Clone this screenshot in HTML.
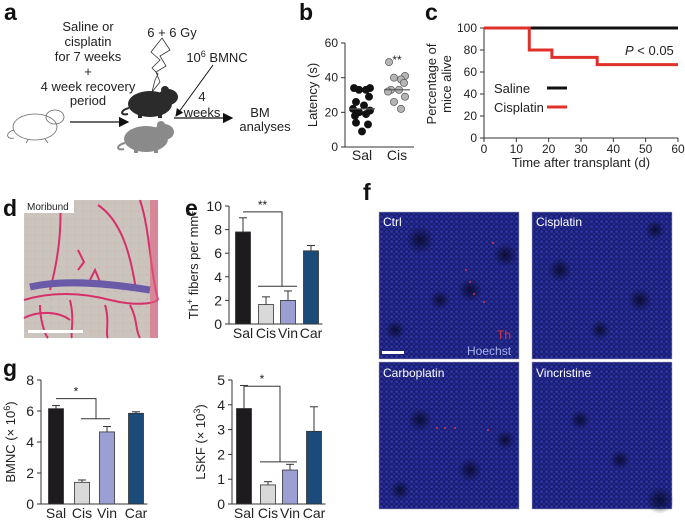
<!DOCTYPE html>
<html><head><meta charset="utf-8"><style>
html,body{margin:0;padding:0;background:#fff;}
svg{display:block;font-family:"Liberation Sans",Arial,sans-serif;}
.lt{font-weight:bold;font-size:23px;fill:#111;}
.tk{font-size:12px;fill:#222;}
.tx{font-size:13px;fill:#222;}
.bx{font-size:14px;fill:#222;}
</style></head><body>
<svg id="fig" width="685" height="521" viewBox="0 0 685 521">
<defs>
<pattern id="cells" width="5" height="5" patternUnits="userSpaceOnUse">
<rect width="5" height="5" fill="#1a1e72"/>
<circle cx="1.6" cy="1.6" r="1.4" fill="#2c34a6"/>
<circle cx="4" cy="4" r="1.1" fill="#262d96"/>
</pattern>
<radialGradient id="blot"><stop offset="0" stop-color="#05061e" stop-opacity="0.75"/><stop offset="1" stop-color="#05061e" stop-opacity="0"/></radialGradient>
<pattern id="dpat" width="8" height="8" patternUnits="userSpaceOnUse">
<rect width="8" height="8" fill="#cbc4bd"/>
<circle cx="3" cy="3" r="0.8" fill="#d9a0b4"/>
</pattern>
<marker id="ah" markerWidth="8" markerHeight="8" refX="7" refY="4" orient="auto"><path d="M0,0 L8,4 L0,8 z" fill="#111"/></marker>
</defs>

<text class="lt" x="4" y="20">a</text>
<text class="lt" x="299" y="20">b</text>
<text class="lt" x="425" y="20">c</text>
<text class="lt" x="3" y="216">d</text>
<text class="lt" x="185" y="216">e</text>
<text class="lt" x="363" y="200">f</text>
<text class="lt" x="3" y="376">g</text>

<g>
<g class="tx" text-anchor="middle">
<text x="88" y="31">Saline or</text>
<text x="88" y="46">cisplatin</text>
<text x="88" y="61">for 7 weeks</text>
<text x="88" y="76">+</text>
<text x="88" y="91">4 week recovery</text>
<text x="88" y="105">period</text>
<text x="172" y="37">6 + 6 Gy</text>
<text x="217" y="62">10<tspan dy="-5" font-size="9">6</tspan><tspan dy="5"> BMNC</tspan></text>
<text x="202" y="101">4</text>
<text x="202" y="117">weeks</text>
<text x="260" y="117">BM</text>
<text x="265" y="131">analyses</text>
</g>
<path d="M162,38 L170,50 L160,56 L166,66 L156,72 L160,82 L152,92 L155,80 L158,74 L152,68 L160,60 L151,52 Z" fill="none" stroke="#333" stroke-width="0.8"/>
<line x1="213" y1="65" x2="176" y2="116" stroke="#111" stroke-width="1" marker-end="url(#ah)"/>
<line x1="70" y1="122" x2="128" y2="122" stroke="#111" stroke-width="1.3" marker-end="url(#ah)"/>
<line x1="174" y1="118" x2="232" y2="118" stroke="#111" stroke-width="1.3" marker-end="url(#ah)"/>
<g fill="none" stroke="#666" stroke-width="0.8">
<ellipse cx="35" cy="127" rx="22" ry="13"/><ellipse cx="55" cy="117" rx="9" ry="7"/>
<path d="M14,130 C5,132 6,140 14,138"/><path d="M28,140 L26,143 M45,139 L48,143"/>
</g>
<g fill="#2b2b2b">
<ellipse cx="150" cy="104" rx="22" ry="13"/><ellipse cx="168" cy="97" rx="10" ry="8"/>
<circle cx="165" cy="90" r="4"/><path d="M129,108 C120,110 120,116 128,114" stroke="#2b2b2b" stroke-width="2" fill="none"/>
<rect x="138" y="113" width="4" height="5"/><rect x="158" y="113" width="4" height="5"/>
</g>
<g fill="#8a8a8a">
<ellipse cx="146" cy="139" rx="22" ry="13"/><ellipse cx="164" cy="132" rx="10" ry="8"/>
<circle cx="161" cy="125" r="4"/><path d="M125,143 C116,145 116,151 124,149" stroke="#8a8a8a" stroke-width="2" fill="none"/>
<rect x="134" y="148" width="4" height="5"/><rect x="154" y="148" width="4" height="5"/>
</g>
</g>

<g>
<rect x="24" y="200" width="134" height="138" fill="url(#dpat)"/>
<g fill="none" stroke="#d6306a" stroke-width="2">
<path d="M60,200 C62,230 58,260 50,290"/><path d="M98,205 C120,220 130,250 136,290"/>
<path d="M140,200 C150,230 150,270 158,300"/><path d="M24,300 C50,292 80,292 110,300 C130,305 150,305 158,300"/>
<path d="M24,318 C40,310 60,312 70,320"/><path d="M40,305 C40,320 45,335 48,338"/><path d="M70,300 C75,320 70,335 72,338"/><path d="M105,305 C110,320 105,335 108,338"/><path d="M130,305 C138,320 135,330 140,338"/>
<path d="M78,250 L84,262 L78,270"/><path d="M90,280 L95,270 L100,282"/>
</g>
<path d="M30,287 C60,280 100,282 150,290" stroke="#6b5aa8" stroke-width="7" fill="none"/>
<rect x="150" y="200" width="8" height="138" fill="#e0607f" opacity="0.6"/>
<rect x="24" y="200" width="50" height="13" fill="#fff"/>
<text x="27" y="210" font-size="10" fill="#222">Moribund</text>
<rect x="28" y="330" width="55" height="3" fill="#fff"/>
</g>

<g font-size="12" fill="#fff">
<rect x="379" y="212" width="140" height="147" fill="url(#cells)" stroke="#aab" stroke-width="0.5"/>
<rect x="532" y="212" width="140" height="147" fill="url(#cells)" stroke="#aab" stroke-width="0.5"/>
<rect x="379" y="362" width="140" height="147" fill="url(#cells)" stroke="#aab" stroke-width="0.5"/>
<rect x="532" y="362" width="140" height="147" fill="url(#cells)" stroke="#aab" stroke-width="0.5"/>
<g fill="url(#blot)">
<circle cx="420" cy="240" r="14"/><circle cx="470" cy="290" r="12"/><circle cx="395" cy="330" r="10"/><circle cx="505" cy="255" r="12"/><circle cx="440" cy="300" r="10"/>
<circle cx="560" cy="270" r="12"/><circle cx="640" cy="300" r="12"/><circle cx="600" cy="330" r="10"/><circle cx="655" cy="230" r="10"/>
<circle cx="420" cy="420" r="12"/><circle cx="470" cy="470" r="12"/><circle cx="400" cy="490" r="10"/><circle cx="505" cy="440" r="10"/>
<circle cx="660" cy="500" r="14"/><circle cx="580" cy="420" r="10"/><circle cx="620" cy="460" r="10"/>
</g>
<g fill="#e0303a"><circle cx="466" cy="270" r="1"/><circle cx="470" cy="282" r="1"/><circle cx="474" cy="294" r="1"/><circle cx="484" cy="302" r="1"/><circle cx="493" cy="243" r="1"/><circle cx="437" cy="428" r="1"/><circle cx="445" cy="428" r="1"/><circle cx="455" cy="428" r="1"/><circle cx="488" cy="430" r="1"/></g>
<text x="383" y="226">Ctrl</text><text x="536" y="226">Cisplatin</text>
<text x="383" y="377">Carboplatin</text><text x="536" y="377">Vincristine</text>
<text x="497" y="339" fill="#e03040">Th</text><text x="467" y="355" fill="#aab0ee">Hoechst</text>
<rect x="382" y="351" width="22" height="3" fill="#fff"/>
</g>

<g id="charts"></g>
</svg>
<script>
const bCategories = ["Sal", "Cis"];
const bSalValues = [34, 34, 33, 33, 29, 26, 24, 22, 21, 20, 19, 18, 14, 13, 9];
const bCisValues = [49, 41, 40, 39, 37, 33, 33, 32, 29, 26, 22];
const bMeans = [22, 33];
const bTicks = [0, 20, 40, 60];

const cSalineX = [0, 60];
const cSalineY = [100, 100];
const cCisX = [0, 14, 14, 21, 21, 35, 35, 60];
const cCisY = [100, 100, 80, 80, 73.3, 73.3, 66.7, 66.7];
const cXTicks = [0, 10, 20, 30, 40, 50, 60];
const cYTicks = [0, 20, 40, 60, 80, 100];

const barCategories = ["Sal", "Cis", "Vin", "Car"];
const barColors = ["#1d1b1e", "#d9d9d9", "#9c9fd3", "#1b4b78"];
const eValues = [7.8, 1.65, 2.0, 6.2];
const eErrors = [1.2, 0.65, 0.8, 0.45];
const eTicks = [0, 2, 4, 6, 8, 10];
const gBmncValues = [6.15, 1.4, 4.65, 5.85];
const gBmncErrors = [0.2, 0.15, 0.35, 0.1];
const gBmncTicks = [0, 2, 4, 6, 8];
const gLskfValues = [3.85, 0.77, 1.37, 2.93];
const gLskfErrors = [0.93, 0.13, 0.23, 0.99];
const gLskfTicks = [0, 1, 2, 3, 4, 5];

const NS = "http://www.w3.org/2000/svg";
const root = document.getElementById("charts");
function mk(tag, attrs, parent, text) {
  const el = document.createElementNS(NS, tag);
  for (const k in attrs) el.setAttribute(k, attrs[k]);
  if (text !== undefined) el.textContent = text;
  (parent || root).appendChild(el);
  return el;
}
function lin(d0, d1, r0, r1) { return v => r0 + (v - d0) * (r1 - r0) / (d1 - d0); }

(function () {
  const g = mk("g", {});
  
  
  const y = lin(0, 60, 147, 43);
  const xc = [362, 397];
  mk("line", { x1: 345, y1: 43, x2: 345, y2: 147, stroke: "#333" }, g);
  mk("line", { x1: 345, y1: 147, x2: 414, y2: 147, stroke: "#333" }, g);
  bTicks.forEach(t => {
    mk("line", { x1: 341, y1: y(t), x2: 345, y2: y(t), stroke: "#333" }, g);
    const tl = mk("text", { x: 338, y: y(t) + 4, "text-anchor": "end", class: "tk" }, g, t);
    
    
  });
  bCategories.forEach((c, i) => {
    const l = mk("text", { x: xc[i], y: 160, "text-anchor": "middle", class: "bx" }, g, c);
    
    
  });
  const jit = [-8, 8, -3, 4, 7, -6, 2, -9, 8, -3, 4, -7, -6, 6, 0, 1];
  [bSalValues, bCisValues].forEach((arr, si) => {
    arr.forEach((v, i) => {
      const p = mk("circle", { cx: xc[si] + jit[i % jit.length], cy: y(v), r: 3.6,
        fill: si ? "#b5b5b5" : "#111", stroke: si ? "#555" : "#111", "stroke-width": 0.7 }, g);
      
      
    });
    const m = mk("line", { x1: xc[si] - 13, x2: xc[si] + 13, y1: y(bMeans[si]), y2: y(bMeans[si]), stroke: "#555", "stroke-width": 1.2 }, g);
    
    
  });
  mk("text", { x: 397, y: 64, "text-anchor": "middle", class: "tk" }, g, "**");
  const t = mk("text", { transform: "translate(317,95) rotate(-90)", "text-anchor": "middle", class: "tx" }, g, "Latency (s)");
  
  
})();

(function () {
  const g = mk("g", {});
  
  
  const x = lin(0, 60, 484, 678), y = lin(0, 100, 138, 28);
  mk("line", { x1: 484, y1: 28, x2: 484, y2: 138, stroke: "#333" }, g);
  mk("line", { x1: 484, y1: 138, x2: 678, y2: 138, stroke: "#333" }, g);
  cYTicks.forEach(t => {
    mk("line", { x1: 480, y1: y(t), x2: 484, y2: y(t), stroke: "#333" }, g);
    mk("text", { x: 477, y: y(t) + 4, "text-anchor": "end", class: "tk" }, g, t);
  });
  cXTicks.forEach(t => {
    mk("line", { x1: x(t), y1: 138, x2: x(t), y2: 142, stroke: "#333" }, g);
    mk("text", { x: x(t), y: 153, "text-anchor": "middle", class: "tk" }, g, t);
  });
  const sal = mk("polyline", { points: cSalineX.map((v, i) => x(v) + "," + y(cSalineY[i])).join(" "), fill: "none", stroke: "#111", "stroke-width": 3 }, g);
  
  
  const cis = mk("polyline", { points: cCisX.map((v, i) => x(v) + "," + y(cCisY[i])).join(" "), fill: "none", stroke: "#e0302a", "stroke-width": 3 }, g);
  
  
  mk("text", { x: 625, y: 55, class: "tx" }, g, "").innerHTML = '<tspan font-style="italic">P</tspan> &lt; 0.05';
  mk("text", { x: 494, y: 93, class: "tx" }, g, "Saline");
  mk("line", { x1: 547, x2: 567, y1: 88, y2: 88, stroke: "#111", "stroke-width": 3 }, g);
  mk("text", { x: 494, y: 112, class: "tx" }, g, "Cisplatin");
  mk("line", { x1: 547, x2: 567, y1: 107, y2: 107, stroke: "#e0302a", "stroke-width": 3 }, g);
  mk("text", { transform: "translate(436,84) rotate(-90)", "text-anchor": "middle", class: "tx" }, g, "Percentage of");
  mk("text", { transform: "translate(451,84) rotate(-90)", "text-anchor": "middle", class: "tx" }, g, "mice alive");
  mk("text", { x: 581, y: 167, "text-anchor": "middle", class: "tx" }, g, "Time after transplant (d)");
})();

function barChart(name, vals, errs, ticks, axX, y0, y1, xcs, bw, titleHtml, titleX, bracket) {
  const g = mk("g", {});
  
  
  const max = ticks[ticks.length - 1];
  const y = lin(0, max, y0, y1);
  mk("line", { x1: axX, y1: y1, x2: axX, y2: y0, stroke: "#333" }, g);
  mk("line", { x1: axX, y1: y0, x2: xcs[3] + bw / 2 + 4, y2: y0, stroke: "#333" }, g);
  ticks.forEach(t => {
    mk("line", { x1: axX - 4, y1: y(t), x2: axX, y2: y(t), stroke: "#333" }, g);
    mk("text", { x: axX - 7, y: y(t) + 5, "text-anchor": "end", class: "bx" }, g, t);
  });
  vals.forEach((v, i) => {
    const xc = xcs[i];
    const e = mk("line", { x1: xc, x2: xc, y1: y(v), y2: y(v + errs[i]), stroke: "#333", "stroke-width": 1 }, g);
    
    
    mk("line", { x1: xc - 4, x2: xc + 4, y1: y(v + errs[i]), y2: y(v + errs[i]), stroke: "#333" }, g);
    const b = mk("rect", { x: xc - bw / 2, y: y(v), width: bw, height: y0 - y(v), fill: barColors[i], stroke: "#333", "stroke-width": 0.8 }, g);
    
    
    mk("text", { x: xc, y: y0 + 14, "text-anchor": "middle", class: "bx" }, g, barCategories[i]);
  });
  const [hv, lv, mid, l2a, l2b, stars] = bracket;
  mk("polyline", { points: `${xcs[0]},${y(hv)} ${mid},${y(hv)} ${mid},${y(lv)}`, fill: "none", stroke: "#333" }, g);
  mk("line", { x1: l2a, x2: l2b, y1: y(lv), y2: y(lv), stroke: "#333" }, g);
  mk("text", { x: (xcs[0] + mid) / 2, y: y(hv) - 3, "text-anchor": "middle", class: "tk" }, g, stars);
  const t = mk("text", { transform: `translate(${titleX},${(y0 + y1) / 2}) rotate(-90)`, "text-anchor": "middle", class: "tx" }, g, "");
  t.innerHTML = titleHtml;
}
barChart("panel-e-th-fibers-chart", eValues, eErrors, eTicks, 229, 324, 206, [243, 266, 288, 311], 15,
  'Th<tspan dy="-5" font-size="9">+</tspan><tspan dy="5"> fibers per mm</tspan><tspan dy="-5" font-size="9">2</tspan>', 198,
  [9.5, 3.2, 282, 258, 297, "**"]);
barChart("panel-g-bmnc-chart", gBmncValues, gBmncErrors, gBmncTicks, 41, 504, 380, [56, 82, 107, 136], 15,
  'BMNC (× 10<tspan dy="-5" font-size="9">6</tspan><tspan dy="5">)</tspan>', 15,
  [6.8, 5.5, 96, 81, 110, "*"]);
barChart("panel-g-lskf-chart", gLskfValues, gLskfErrors, gLskfTicks, 232, 504, 380, [244, 268, 290, 314], 15,
  'LSKF (× 10<tspan dy="-5" font-size="9">3</tspan><tspan dy="5">)</tspan>', 205,
  [4.75, 1.7, 280, 260, 297, "*"]);
</script>
</body></html>
